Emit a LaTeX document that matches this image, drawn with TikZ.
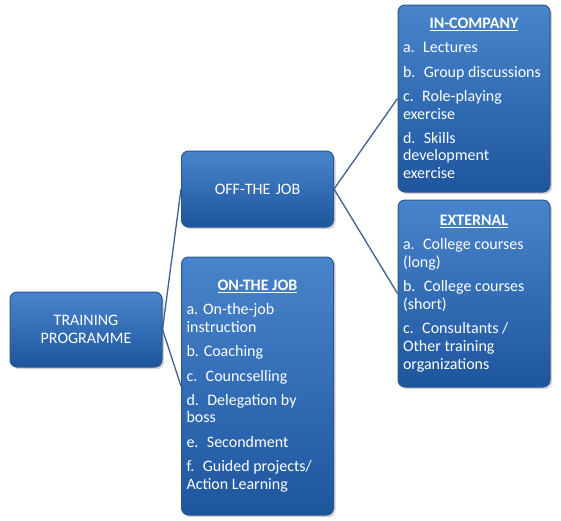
\documentclass[tikz,border=0pt]{standalone}
\usepackage{fontspec}
\setmainfont{Carlito}
\usetikzlibrary{shadows}
\definecolor{boxtop}{RGB}{72,132,204}
\definecolor{boxbot}{RGB}{30,86,158}
\definecolor{boxedge}{RGB}{45,85,145}
\definecolor{linkcol}{RGB}{62,96,146}

\begin{document}
\begin{tikzpicture}[x=1pt, y=-1pt,
    box/.style={rectangle, rounded corners=7pt, top color=boxtop, bottom color=boxbot,
        draw=boxedge, line width=1pt, text=white, text width=142pt, inner xsep=5pt,
        minimum width=152pt, font=\fontsize{16}{17.7}\selectfont,
        drop shadow={shadow xshift=2pt, shadow yshift=-2pt, opacity=0.35}},
    link/.style={draw=linkcol, line width=1.3pt}]
    \useasboundingbox (0,0) rectangle (561,520);

    % Define the boxes
    \node[box, align=center, minimum height=75pt] (train) at (86,329.5) {TRAINING\\PROGRAMME};
    \node[box, align=center, minimum height=76pt] (off) at (257.5,189) {OFF-THE JOB};

    \node[box, align=flush left, minimum height=258pt] (on) at (257.5,386) {%
        \makebox[142pt]{\underline{\textbf{ON-THE JOB}}}\\[6.5pt]
        a. On-the-job\\instruction\\[6.5pt]
        b. Coaching\\[6.5pt]
        c.~ Councselling\\[6.5pt]
        d.~ Delegation by\\boss\\[6.5pt]
        e.~ Secondment\\[6.5pt]
        f.~ Guided projects/\\Action Learning};

    \node[box, align=flush left, minimum height=187pt] (incomp) at (474,98.5) {%
        \makebox[142pt]{\underline{\textbf{IN-COMPANY}}}\\[6.5pt]
        a.~ Lectures\\[6.5pt]
        b.~ Group discussions\\[6.5pt]
        c.~ Role-playing\\exercise\\[6.5pt]
        d.~ Skills\\development\\exercise};
    \node[box, align=flush left, minimum height=187pt] (ext) at (474,293.5) {%
        \makebox[142pt]{\underline{\textbf{EXTERNAL}}}\\[6.5pt]
        a.~ College courses\\(long)\\[6.5pt]
        b.~ College courses\\(short)\\[6.5pt]
        c.~ Consultants /\\Other training\\organizations};

    % Draw the links
    \draw[link] (train.east) -- (off.west);
    \draw[link] (train.east) -- (on.west);
    \draw[link] (off.east) -- (incomp.west);
    \draw[link] (off.east) -- (ext.west);
\end{tikzpicture}
\end{document}
